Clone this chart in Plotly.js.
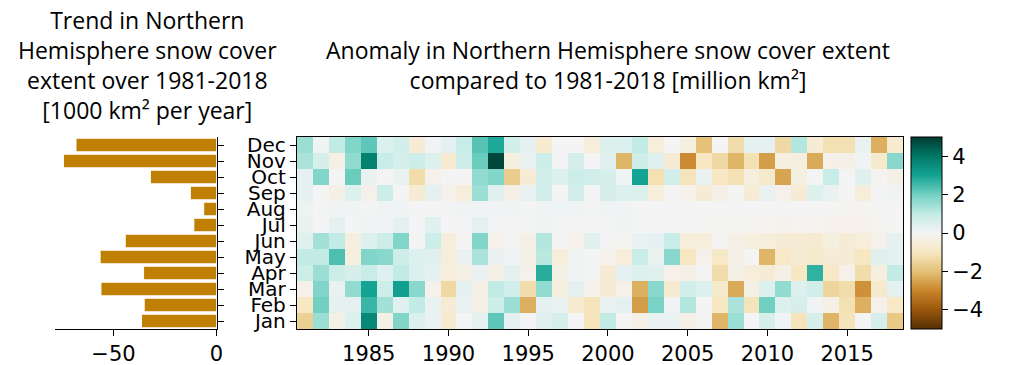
<!DOCTYPE html>
<html>
<head>
<meta charset="utf-8">
<script src="https://cdn.plot.ly/plotly-3.0.1.min.js"></script>
<style>html,body{margin:0;padding:0;background:#fff;}#chart{width:1024px;height:365px;}</style>
</head>
<body>
<div id="chart"></div>
<script>
// ---- Data ----
const years = [1981,1982,1983,1984,1985,1986,1987,1988,1989,1990,1991,1992,1993,1994,1995,1996,1997,1998,1999,2000,
               2001,2002,2003,2004,2005,2006,2007,2008,2009,2010,2011,2012,2013,2014,2015,2016,2017,2018];
const monthLabels = ["Jan","Feb","Mar","Apr","May","Jun","Jul","Aug","Sep","Oct","Nov","Dec"];
const monthIndex = [0,1,2,3,4,5,6,7,8,9,10,11];

// Trend 1981-2018 [1000 km² per year], Jan..Dec
const trend = [-36.4,-35.1,-56.1,-35.4,-56.5,-44.3,-11.0,-6.2,-12.7,-32.1,-74.3,-68.2];

// Anomaly [million km²] per month, 1981..2018
const jan = [-1.6,1.5,-0.3,0.5,3.6,-0.3,1.8,0.5,0.2,-0.7,0.0,0.3,2.2,0.3,0.0,0.4,0.6,0.0,-1.1,1.0,
             0.0,-0.3,0.2,0.2,-0.3,0.0,-2.2,1.5,0.0,0.6,0.1,-1.1,0.6,-2.2,-1.1,0.0,0.6,-1.8];
const feb = [-1.0,2.0,0.3,0.3,2.6,1.4,0.4,1.0,0.2,-0.6,0.2,-0.3,0.8,1.5,-2.3,0.3,0.2,-0.7,-1.1,0.2,
             0.3,-2.6,1.9,0.1,1.2,0.0,-1.0,1.3,-1.1,2.0,0.5,0.6,0.1,-0.3,-1.2,-2.3,-0.2,-0.9];
const mar = [-0.2,1.8,0.2,1.6,3.0,0.8,3.1,1.7,-0.2,-1.4,0.3,-0.3,1.0,0.7,-1.3,1.6,-0.4,0.3,-0.2,-0.6,
             -0.2,-2.3,1.7,-0.7,0.7,0.5,-0.8,-2.4,-0.3,0.5,1.6,0.5,0.7,-1.5,-1.3,-2.8,-0.8,0.3];
const apr = [0.8,1.5,0.8,0.6,0.9,0.4,1.0,0.5,0.3,-0.5,-0.3,0.2,-0.3,0.3,-0.2,2.8,-0.3,0.1,0.0,-0.6,
             0.3,0.5,0.4,-0.2,-0.3,0.0,-1.3,-0.3,-0.5,-0.6,-0.3,-1.0,2.7,-0.9,-0.2,-1.3,-0.4,1.0];
const may = [1.0,1.0,2.4,-0.4,1.8,1.7,0.8,0.5,0.4,-0.5,0.2,1.3,0.2,0.1,-0.3,1.1,-0.5,0.1,0.0,-0.2,
             -0.5,0.9,0.2,1.7,-1.0,-0.2,-0.9,-0.3,0.0,-2.2,-0.9,-0.6,-0.8,-0.6,-0.6,-1.0,0.4,0.3];
const jun = [0.4,1.4,1.0,-0.4,0.5,0.8,1.8,0.0,0.8,-0.5,0.0,1.8,-0.2,0.0,-0.3,1.2,0.0,-0.2,0.4,0.0,
             -0.1,0.2,0.3,0.9,-0.5,-0.5,0.0,-0.3,-0.4,-0.5,-0.6,-0.6,-0.7,-0.4,-0.6,-0.5,-0.2,0.3];
const jul = [0.2,0.0,0.3,0.0,0.1,0.1,0.3,0.0,0.4,0.0,0.0,0.3,0.0,0.0,0.0,0.1,0.0,0.0,0.0,0.0,
             0.1,0.0,0.0,0.0,0.0,0.0,-0.1,0.0,-0.1,-0.1,-0.2,-0.1,-0.1,-0.2,-0.2,-0.2,-0.1,0.0];
const aug = [0.15,0.0,0.1,0.1,0.0,0.1,0.1,0.0,0.0,0.0,0.1,0.1,0.1,0.1,0.0,0.1,0.1,0.1,0.0,0.1,
             0.1,0.0,0.0,0.0,0.0,0.0,0.0,0.0,0.0,0.0,0.0,0.0,0.0,0.0,-0.1,-0.1,0.0,0.0];
const sep = [0.3,0.0,-0.3,0.5,-0.2,0.8,0.0,-0.6,0.3,-0.2,-0.5,1.5,0.4,-0.3,0.2,0.7,0.0,0.7,0.0,0.6,
             0.5,0.5,-0.5,0.0,-0.2,-0.6,-0.3,0.0,-0.6,0.2,-0.2,-0.6,0.5,0.2,0.0,-0.5,0.0,0.1];
const oct = [0.3,1.8,0.0,2.1,0.2,0.0,0.2,-1.3,-0.2,0.0,0.0,1.6,1.8,-1.7,-0.6,0.7,0.5,0.8,0.7,0.6,
             0.1,3.0,-1.2,0.7,-1.1,0.2,-1.0,-1.2,-0.4,-0.8,-2.5,-0.4,0.0,0.9,0.0,0.4,-0.1,-0.3];
const nov = [1.3,0.6,-0.3,1.6,3.8,0.9,0.6,0.8,0.5,-0.7,0.8,2.1,4.8,-0.4,0.2,0.8,0.0,0.6,0.0,0.4,
             -2.2,0.8,0.4,-0.6,-2.9,-1.0,-1.4,-2.2,-1.2,-2.6,-0.4,-0.4,-2.4,-0.2,-0.3,0.1,-0.8,1.7];
const dec = [1.5,0.1,1.0,1.8,2.2,0.5,0.7,-0.6,0.1,0.3,0.9,2.3,2.9,0.7,0.3,-0.7,0.0,0.0,-0.5,0.5,
             0.5,1.0,-0.5,0.0,-0.4,-2.0,0.0,-1.3,0.3,0.3,-1.4,1.2,-0.6,-1.2,-1.2,0.2,-2.3,-0.7];

const anomaly = [jan,feb,mar,apr,may,jun,jul,aug,sep,oct,nov,dec];
const yearTicks = [1985,1990,1995,2000,2005,2010,2015];
const cbTicks = [-4,-2,0,2,4];

// ---- Styling ----
const FIG_W = 1024, FIG_H = 365;
const plotTop = 137, plotBottom = 329;
const yDom = [(FIG_H - plotBottom)/FIG_H, (FIG_H - plotTop)/FIG_H];
const tickFont = {family:'DejaVu Sans, sans-serif', size:21, color:'#000'};
const titleFont = {family:'Open Sans, sans-serif', size:23, color:'#000'};

const brbg = [
  [0.0,'#543005'],[0.1,'#9a560b'],[0.2,'#c9852a'],[0.3,'#e4c277'],[0.4,'#f7e7c2'],
  [0.5,'#f4f4f4'],[0.6,'#c3ebe5'],[0.7,'#72d0c2'],[0.8,'#15a393'],[0.9,'#007866'],[1.0,'#003a2f']
];

const traces = [
  {
    type:'bar', orientation:'h', x: trend, y: monthIndex,
    xaxis:'x', yaxis:'y',
    marker:{color:'#bf8002', line:{color:'#ffffff', width:1}},
    hoverinfo:'x'
  },
  {
    type:'heatmap', x: years, y: monthIndex, z: anomaly,
    xaxis:'x2', yaxis:'y2',
    colorscale: brbg, zmin:-5, zmax:5, zsmooth:false,
    colorbar:{
      x: 911/FIG_W, xanchor:'left', xpad:0,
      y: yDom[0], yanchor:'bottom', ypad:0,
      len: yDom[1]-yDom[0], lenmode:'fraction',
      thickness:31, thicknessmode:'pixels',
      outlinewidth:1, outlinecolor:'#000',
      tickvals: cbTicks, ticks:'outside', ticklen:6, tickwidth:1, tickcolor:'#000',
      tickfont: tickFont
    }
  }
];

const layout = {
  width: FIG_W, height: FIG_H,
  margin:{l:0,r:0,t:0,b:0},
  paper_bgcolor:'#fff', plot_bgcolor:'#fff',
  showlegend:false, bargap:0.15,
  font:{family:'DejaVu Sans, sans-serif', size:20, color:'#000'},
  xaxis:{
    domain:[55/FIG_W, 216.5/FIG_W], range:[-78.4, 0], anchor:'y',
    tickvals:[-50,0], ticks:'outside', ticklen:6, tickwidth:1, tickcolor:'#000',
    showline:true, linecolor:'#000', linewidth:1.2,
    showgrid:false, zeroline:false, tickfont: tickFont, fixedrange:true
  },
  yaxis:{
    domain: yDom, range:[-0.5, 11.5], anchor:'x', side:'right',
    tickvals: monthIndex, showticklabels:false,
    ticks:'outside', ticklen:6, tickwidth:1, tickcolor:'#000',
    showline:true, linecolor:'#000', linewidth:1.2,
    showgrid:false, zeroline:false, fixedrange:true
  },
  xaxis2:{
    domain:[297/FIG_W, 903/FIG_W], range:[1980.5, 2018.5], anchor:'y2',
    tickvals: yearTicks, ticks:'outside', ticklen:6, tickwidth:1, tickcolor:'#000',
    showline:true, mirror:true, linecolor:'#000', linewidth:1.2,
    showgrid:false, zeroline:false, tickfont: tickFont, fixedrange:true
  },
  yaxis2:{
    domain: yDom, range:[-0.5, 11.5], anchor:'x2',
    tickvals: monthIndex, ticktext: monthLabels,
    ticks:'outside', ticklen:6, tickwidth:1, tickcolor:'#000',
    showline:true, mirror:true, linecolor:'#000', linewidth:1.2,
    showgrid:false, zeroline:false,
    tickfont:{family:'DejaVu Sans, sans-serif', size:20, color:'#000'}, fixedrange:true
  },
  annotations:[
    {
      xref:'paper', yref:'paper', x:147/FIG_W, y:(FIG_H-65)/FIG_H,
      xanchor:'center', yanchor:'middle', showarrow:false, align:'center',
      text:'Trend in Northern<br>Hemisphere snow cover<br>extent over 1981-2018<br>[1000 km² per year]',
      font: titleFont
    },
    {
      xref:'paper', yref:'paper', x:608/FIG_W, y:(FIG_H-65)/FIG_H,
      xanchor:'center', yanchor:'middle', showarrow:false, align:'center',
      text:'Anomaly in Northern Hemisphere snow cover extent<br>compared to 1981-2018 [million km²]',
      font: titleFont
    }
  ]
};

Plotly.newPlot('chart', traces, layout, {displayModeBar:false, staticPlot:true});
</script>
</body>
</html>
